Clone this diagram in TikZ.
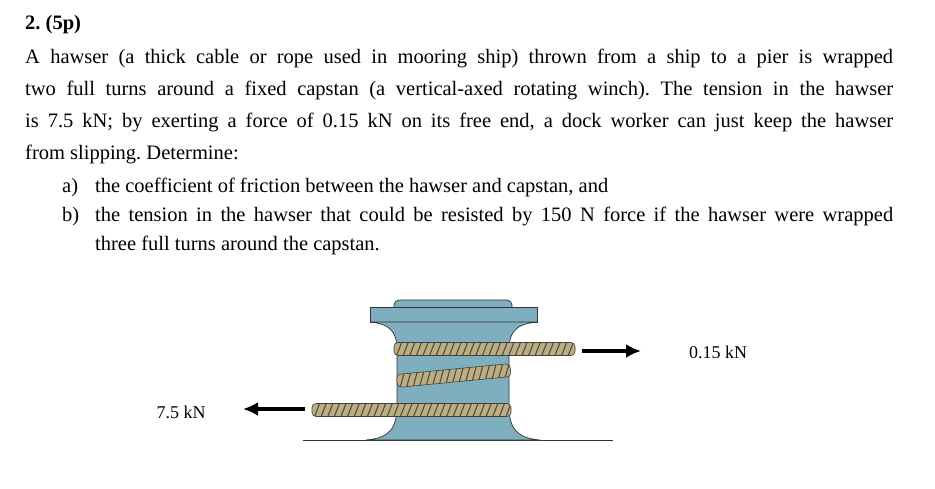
\documentclass[tikz,border=0pt]{standalone}
\usepackage{fontspec}
\setmainfont{Liberation Serif}
\usetikzlibrary{arrows.meta}
\definecolor{capblue}{HTML}{7FAEBF}
\definecolor{ropetan}{HTML}{BDAE80}
\tikzset{
  capbody/.style={fill=capblue,draw=black!80,line width=0.7pt},
  ropeline/.style={draw=black!70,line width=1.1pt},
  force/.style={-{Latex[length=15pt,width=14pt]},line width=3.5pt},
  txt/.style={anchor=base west,inner sep=0pt,font=\fontsize{20.5}{24}\selectfont},
  lbl/.style={font=\fontsize{18}{20}\selectfont,inner sep=0pt}
}
\newcommand\myrope[4]{% x y length angle
 \begin{scope}[shift={(#1,#2)},rotate=#4]
  \fill[ropetan,rounded corners=4pt] (0,-6.5) rectangle (#3,6.5);
  \begin{scope}
   \clip[rounded corners=4pt] (0,-6.5) rectangle (#3,6.5);
   \foreach \i in {-4,2.6,...,#3} \draw[ropeline] (\i,6.5) -- (\i+5,-6.5);
  \end{scope}
  \draw[draw=black!75,line width=0.6pt,rounded corners=4pt] (0,-6.5) rectangle (#3,6.5);
 \end{scope}}
\begin{document}
\frenchspacing
\begin{tikzpicture}[x=1pt,y=-1pt]
\useasboundingbox (0,0) rectangle (935,488);
\node[txt,font=\fontsize{20.5}{24}\selectfont\bfseries] (t0) at (25,29) {2. (5p)};
\node[txt] (t1) at (25,63) {\makebox[868pt][s]{A hawser (a thick cable or rope used in mooring ship) thrown from a ship to a pier is wrapped}};
\node[txt] (t2) at (25,95) {\makebox[868pt][s]{two full turns around a fixed capstan (a vertical-axed rotating winch). The tension in the hawser}};
\node[txt] (t3) at (25,127) {\makebox[868pt][s]{is 7.5 kN; by exerting a force of 0.15 kN on its free end, a dock worker can just keep the hawser}};
\node[txt] (t4) at (25,159) {from slipping. Determine:};
\node[txt] (a1) at (62,192) {a)};
\node[txt] (a2) at (95,192) {the coefficient of friction between the hawser and capstan, and};
\node[txt] (b1) at (62,221) {b)};
\node[txt] (b2) at (95,221) {\makebox[798pt][s]{the tension in the hawser that could be resisted by 150 N force if the hawser were wrapped}};
\node[txt] (b3) at (95,250) {three full turns around the capstan.};
% ground
\draw[line width=0.8pt,black!80] (303,440) -- (613,440);
% capstan
\draw[capbody,rounded corners=5pt] (394,308) -- (394,300) -- (512,300) -- (512,308);
\draw[capbody] (370,307) rectangle (537,322);
\draw[capbody] (370,322) .. controls (392,324) and (397,334) .. (397,350)
  -- (397,405) .. controls (397,428) and (390,438) .. (366,440)
  -- (540,440) .. controls (516,438) and (509,428) .. (509,405)
  -- (509,350) .. controls (509,334) and (514,324) .. (537,322) -- cycle;
% ropes
\myrope{394}{349}{181}{0}
\myrope{397}{381}{114}{5.5}
\myrope{312}{410}{199}{0}
% forces
\coordinate (r1) at (582,351); \coordinate (r2) at (641,351);
\coordinate (l1) at (305,409); \coordinate (l2) at (243,409);
\draw[force] (r1) -- (r2);
\draw[force] (l1) -- (l2);
\node[lbl] (f1) at (718,352) {0.15 kN};
\node[lbl] (f2) at (181,412) {7.5 kN};
\end{tikzpicture}
\end{document}
